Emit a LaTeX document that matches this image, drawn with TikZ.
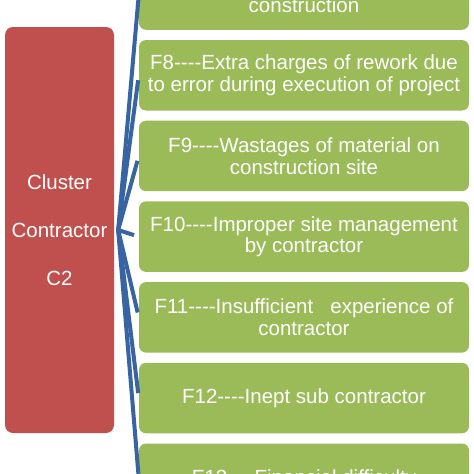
\documentclass[tikz,border=0pt]{standalone}
\usepackage{fontspec}
\setmainfont{Liberation Sans}
\definecolor{boxgreen}{RGB}{155,187,89}
\definecolor{boxred}{RGB}{192,80,77}
\definecolor{linkblue}{RGB}{56,100,162}
\newcommand{\dd}{-{}-{}-{}-}
\tikzset{
  factor/.style={draw=none, fill=boxgreen, rounded corners=7pt, minimum width=330pt,
    minimum height=70.5pt, inner sep=0pt, text=white, align=center,
    font=\fontsize{20.5}{21.5}\selectfont},
  cluster/.style={draw=none, fill=boxred, rounded corners=8pt, minimum width=109pt,
    minimum height=406pt, inner sep=0pt, text=white, align=center,
    font=\fontsize{20.5}{48}\selectfont},
  link/.style={draw=linkblue, line width=4pt, shorten >=5pt},
  plain/.style={text=white, inner sep=0pt, font=\fontsize{20.5}{21.5}\selectfont}
}
\begin{document}
\begin{tikzpicture}[x=1pt,y=-1pt]
\useasboundingbox (0,0) rectangle (474,474);
\clip (0,0) rectangle (474,474);
\fill[white] (0,0) rectangle (474,474);
\node[cluster] (c2) at (59.5,230) {Cluster\\Contractor\\C2};
\node[factor] (f7) at (304,-5.45) {};
\node[plain, anchor=base] (f7t) at (304,12) {construction};
\node[factor] (f8) at (304,75.25) {F8\dd Extra charges of rework due\\to error during execution of project};
\node[factor] (f9) at (304,155.95) {F9\dd Wastages of material on\\construction site};
\node[factor] (f10) at (304,236.65) {F10\dd Improper site management\\by contractor};
\node[factor] (f11) at (304,317.35) {F11\dd Insufficient\ \ \ experience of\\contractor};
\node[factor] (f12) at (304,398.05) {F12\dd Inept sub contractor};
\node[factor] (f13) at (304,478.75) {F13\dd Financial difficulty};
\foreach \f in {f7,f8,f9,f10,f11,f12,f13}{
  \draw[link] ([xshift=4pt]c2.east) -- (\f.west);
}
\end{tikzpicture}
\end{document}
